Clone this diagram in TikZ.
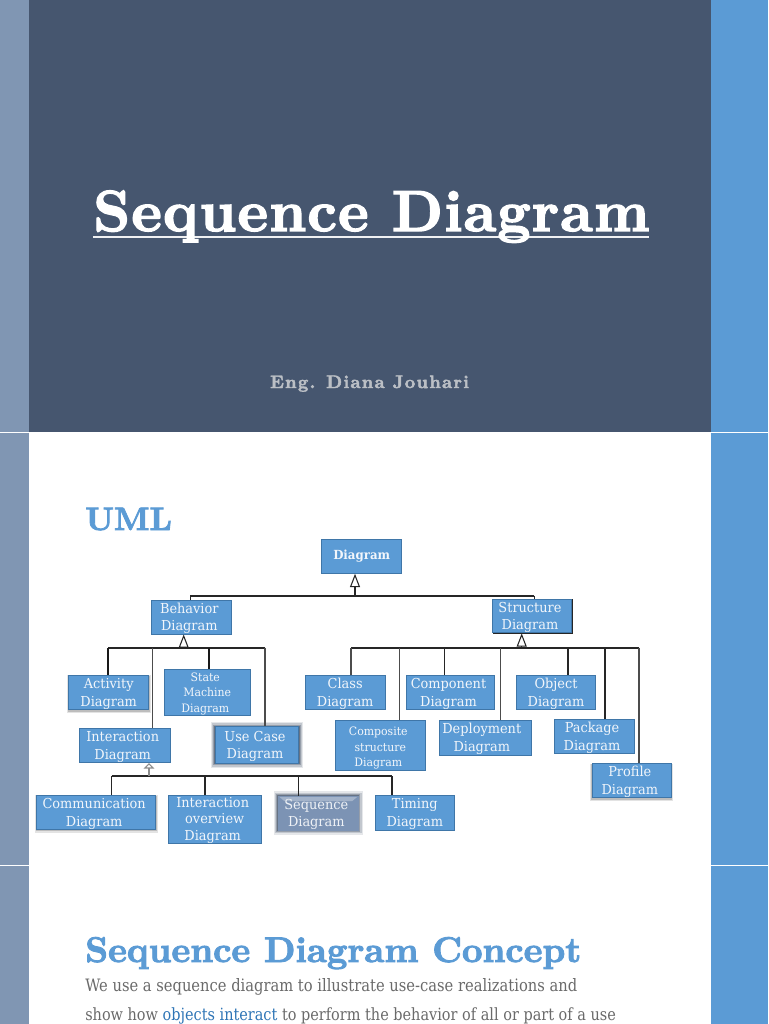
\documentclass[tikz,border=0pt]{standalone}
\usepackage{fontspec}
\usepackage{graphicx}
\usetikzlibrary{arrows.meta,calc}
\newfontfamily\slab[FakeStretch=0.94]{DejaVu Serif}
\newfontfamily\bodyslab[FakeStretch=0.86]{DejaVu Serif}
\newfontface\titlefont[FakeBold=2.5,LetterSpace=2]{LMRoman10-Bold}
\newfontface\subfont[FakeBold=2.5,LetterSpace=7]{LMRoman10-Bold}
\newfontface\headfont[FakeBold=2.5]{LMRoman10-Bold}
\newcommand\nudge{\hspace*{3pt}}
\newcommand\tp{\rule{0pt}{9.7pt}}
\newcommand\tps{\rule{0pt}{9pt}}
\definecolor{panel}{HTML}{46566F}
\definecolor{stripL}{HTML}{8096B3}
\definecolor{stripR}{HTML}{5B9BD5}
\definecolor{boxfill}{HTML}{5B9BD5}
\definecolor{boxline}{HTML}{3F76A8}
\definecolor{seqfill}{HTML}{7C93B4}
\definecolor{subtitle}{HTML}{BBBFC5}
\definecolor{bodygray}{HTML}{6A6A6A}
\definecolor{linkblue}{HTML}{2E75B6}
\definecolor{boxtext}{HTML}{F2F6FB}
\definecolor{glowc}{HTML}{3A4A60}
\tikzset{
  x=0.75pt,y=-0.75pt,
  ubox/.style={draw=boxline,line width=0.7pt,fill=boxfill,text=boxtext,align=center,inner sep=0pt,
    font=\slab\fontsize{10.3}{13.3}\selectfont},
  smalltext/.style={font=\slab\fontsize{8.7}{11.6}\selectfont},
  softshadow/.style={preaction={draw=black!60,opacity=.18,line width=3pt,transform canvas={yshift=-1.2pt}},
    preaction={draw=black!60,opacity=.3,line width=1.5pt,transform canvas={yshift=-1pt}}},
  glow/.style={preaction={draw=glowc,opacity=.13,line width=7pt},preaction={draw=glowc,opacity=.2,line width=5pt},
    preaction={draw=glowc,opacity=.32,line width=3.2pt},preaction={draw=glowc,opacity=.5,line width=1.6pt}},
  bus/.style={draw=black!85,line width=1.3pt},
  drop/.style={draw=black!85,line width=1.1pt},
  dropheavy/.style={draw=black!90,line width=1.5pt},
  droplight/.style={draw=black!70,line width=1pt},
  gen/.style={draw=black!85,line width=0.8pt,-{Triangle[open,length=10pt,width=7.5pt,fill=white]}},
  genlight/.style={draw=black!45,line width=0.8pt,-{Triangle[open,length=4pt,width=8pt,fill=white]}},
  plaintext/.style={inner sep=0pt,anchor=base west},
}
\begin{document}
\begin{tikzpicture}
\useasboundingbox (0,0) rectangle (768,1024);
% background
\fill[white] (0,0) rectangle (768,1024);
\fill[stripL] (0,0) rectangle (29,1024);
\fill[stripR] (711,0) rectangle (768,1024);
\fill[panel] (29,0) rectangle (711,432);
\fill[white] (0,432) rectangle (29,433.2);
\fill[white] (711,432) rectangle (768,433.2);
\fill[white] (0,865) rectangle (29,866.2);
\fill[white] (711,865) rectangle (768,866.2);
% titles
\draw[draw=white!92!panel,line width=2.2pt] (93,237) -- (649,237);
\node[plaintext,text=white] (title) at (93,231) {\resizebox{417pt}{!}{\titlefont\fontsize{10}{12}\selectfont Sequence Diagram}};
\node[plaintext,text=subtitle] (sub) at (270,388) {\resizebox{149pt}{!}{\subfont\fontsize{10}{12}\selectfont Eng. Diana Jouhari}};
\node[plaintext,text=stripR] (uml) at (85,530) {\resizebox{65pt}{!}{\headfont\fontsize{10}{12}\selectfont UML}};
\node[plaintext,text=stripR] (concept) at (85,962) {\resizebox{372pt}{!}{\headfont\fontsize{10}{12}\selectfont Sequence Diagram Concept}};
\node[plaintext,text=bodygray] (l1) at (85,991.5) {\resizebox{369pt}{!}{\bodyslab\fontsize{11.5}{14}\selectfont We use a sequence diagram to illustrate use-case realizations and}};
\node[plaintext,text=bodygray] (l2) at (85,1020.5) {\resizebox{398pt}{!}{\bodyslab\fontsize{11.5}{14}\selectfont show how \textcolor{linkblue}{objects interact} to perform the behavior of all or part of a use}};
% boxes
\node[ubox,minimum width=60pt,minimum height=25.5pt,font=\slab\bfseries\fontsize{9.4}{13}\selectfont] (dia) at (361.7,556.3) {Diagram};
\node[ubox,minimum width=59.5pt,minimum height=25.5pt] (beh) at (191.3,617) {\tp Behavior\nudge\\Diagram\nudge};
\node[ubox,minimum width=59.5pt,minimum height=25pt,preaction={draw=black!85,line width=1pt,transform canvas={xshift=0.7pt,yshift=-0.5pt}}] (str) at (532,616) {\tp Structure\nudge\\Diagram\nudge};
\node[ubox,minimum width=60pt,minimum height=26pt,softshadow] (act) at (108.7,692.5) {\tp Activity\\Diagram};
\node[ubox,minimum width=65pt,minimum height=34.5pt,smalltext] (sta) at (207.3,692) {\tps State\nudge\\Machine\nudge\\Diagram\nudge};
\node[ubox,minimum width=68.5pt,minimum height=25.5pt] (int) at (124.7,745.7) {\tp Interaction\nudge\\Diagram\nudge};
\node[ubox,minimum width=62.5pt,minimum height=27.5pt,glow] (use) at (257,745) {\tp Use Case\nudge\\Diagram\nudge};
\node[ubox,minimum width=89pt,minimum height=25.3pt,softshadow] (com) at (96.2,812.2) {\tp Communication\nudge\\Diagram\nudge};
\node[ubox,minimum width=70pt,minimum height=36pt,font=\slab\fontsize{10.3}{12.4}\selectfont] (ove) at (214.7,819.3) {\tps Interaction\nudge\\overview\nudge\\Diagram\nudge};
\node[ubox,minimum width=60pt,minimum height=25.5pt,glow,fill=seqfill,draw=seqfill,text=white!88!seqfill,
  path picture={\fill[white,opacity=.3] (path picture bounding box.north west) -- (path picture bounding box.north east) -- ([shift={(-6,5)}]path picture bounding box.north east) -- ([shift={(6,5)}]path picture bounding box.north west) -- cycle;}] (seq) at (318.3,813) {\tp Sequence\nudge\\Diagram\nudge};
\node[ubox,minimum width=59.3pt,minimum height=26.2pt] (tim) at (414.8,812.7) {\tp Timing\\Diagram};
\node[ubox,minimum width=59.7pt,minimum height=25.3pt] (cla) at (345.2,692.8) {\tp Class\\Diagram};
\node[ubox,minimum width=66.3pt,minimum height=25.3pt] (cmp) at (450.5,692.8) {\tp Component\nudge\\Diagram\nudge};
\node[ubox,minimum width=59.5pt,minimum height=25.3pt] (obj) at (556,692.8) {\tp Object\\Diagram};
\node[ubox,minimum width=67pt,minimum height=37.5pt,smalltext] (cst) at (380.3,745.3) {\rule{0pt}{10.5pt}Composite\nudge\\structure\nudge\\Diagram\nudge};
\node[ubox,minimum width=69.2pt,minimum height=26.2pt] (dep) at (485.8,737.8) {\tp Deployment\nudge\nudge\\Diagram\nudge\nudge};
\node[ubox,minimum width=60pt,minimum height=25.5pt] (pac) at (594,736.3) {\tp Package\nudge\\Diagram\nudge};
\node[ubox,minimum width=59.2pt,minimum height=25.3pt,softshadow] (pro) at (631.8,780.8) {\tp Profile\nudge\\Diagram\nudge};
% top bus
\coordinate (ta) at (190.3,595.7);
\coordinate (tm) at (355,595.7);
\coordinate (tb) at (534.3,595.7);
\draw[bus] (ta) -- (tb);
\draw[drop] (ta) -- (ta |- beh.north);
\draw[drop] (tb) -- (tb |- str.north);
\draw[gen] (tm) -- (tm |- dia.south);
% behavior bus
\coordinate (b1) at (108,647.7);
\coordinate (b2) at (152.7,647.7);
\coordinate (bm) at (183.7,647.7);
\coordinate (b3) at (209,647.7);
\coordinate (b4) at (265,647.7);
\draw[bus] (b1) -- (b4);
\draw[dropheavy] (b1) -- (b1 |- act.north);
\draw[droplight] (b2) -- (b2 |- int.north);
\draw[dropheavy] (b3) -- (b3 |- sta.north);
\draw[droplight] (b4) -- (b4 |- use.north);
\draw[gen] (bm) -- (bm |- beh.south);
% structure bus
\coordinate (s1) at (351,647.7);
\coordinate (s2) at (399.7,647.7);
\coordinate (s3) at (444.3,647.7);
\coordinate (s4) at (500.7,647.7);
\coordinate (sm) at (521.7,647.7);
\coordinate (s5) at (568,647.7);
\coordinate (s6) at (605,647.7);
\coordinate (s7) at (639,647.7);
\draw[bus] (s1) -- (s7);
\draw[droplight] (s1) -- (s1 |- cla.north);
\draw[droplight] (s2) -- (s2 |- cst.north);
\draw[drop] (s3) -- (s3 |- cmp.north);
\draw[droplight] (s4) -- (s4 |- dep.north);
\draw[drop] (s5) -- (s5 |- obj.north);
\draw[drop] (s6) -- (s6 |- pac.north);
\draw[droplight] (s7) -- (s7 |- pro.north);
\draw[gen] (sm) -- (sm |- str.south);
% interaction bus
\coordinate (i1) at (111.7,776);
\coordinate (im) at (149,776);
\coordinate (i2) at (205,776);
\coordinate (i3) at (298.7,776);
\coordinate (i4) at (392,776);
\draw[bus] (i1) -- (i4);
\draw[drop] (i1) -- (i1 |- com.north);
\draw[drop] (i2) -- (i2 |- ove.north);
\draw[drop] (i3) -- (i3 |- seq.north);
\draw[drop] (i4) -- (i4 |- tim.north);
\draw[genlight] (im) -- (im |- int.south);
\end{tikzpicture}
\end{document}
